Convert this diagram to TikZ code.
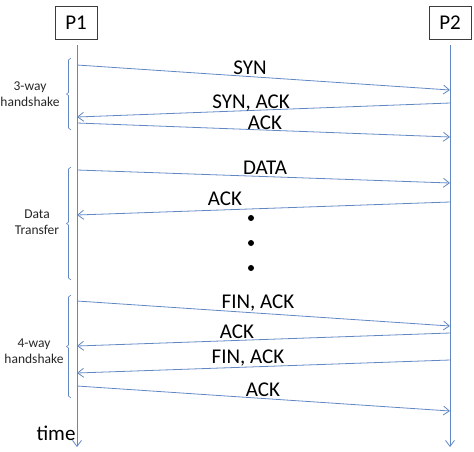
\documentclass[tikz,border=0pt]{standalone}
\usepackage{fontspec}
\setmainfont{Carlito}
\usepackage{tikz}
\usetikzlibrary{arrows.meta}
\usetikzlibrary{calc}
\definecolor{lineblue}{RGB}{98,136,196}
\definecolor{boxgray}{RGB}{60,60,60}
\tikzset{
 procbox/.style={draw=boxgray, line width=0.8pt, minimum width=42pt, minimum height=33pt, inner sep=0pt, font=\fontsize{21}{25}\selectfont},
 msg/.style={lineblue, line width=0.8pt, -{Straight Barb[length=6pt,width=9pt]}},
 lbl/.style={inner sep=0pt, font=\fontsize{21}{25}\selectfont},
 phase/.style={inner sep=0pt, align=center, text=black!85, font=\fontsize{13.5}{16}\selectfont}
}

\begin{document}
\begin{tikzpicture}[x=1pt,y=-1pt]
\useasboundingbox (0,0) rectangle (474,451);
\node[procbox] (p1) at (76,22.5) {P1};
\node[procbox] (p2) at (450,22.5) {P2};
\coordinate (a) at (77,0);
\coordinate (b) at (450,0);
\coordinate (aend) at (77,447);
\coordinate (bend) at (450,447);
\draw[msg] (a|-0,45) -- (aend);
\draw[msg] (b|-0,45) -- (bend);
\foreach \n/\f/\t/\ya/\yb/\lx/\ly/\lab in {
 1/a/b/65/90/250/68/SYN, 2/b/a/103/117/251/103/{SYN, ACK}, 3/a/b/123/137/265/123/ACK,
 4/a/b/170/183/265/168/DATA, 5/b/a/202/215/225/199/ACK,
 6/a/b/301/326/258/303/{FIN, ACK}, 7/b/a/333/346/237/332/ACK,
 8/b/a/360/373/248/358/{FIN, ACK}, 9/a/b/386/411/263/390/ACK} {
 \coordinate (m\n s) at ($(\f)+(0,\ya)$);
 \coordinate (m\n e) at ($(\t)+(0,\yb)$);
 \draw[msg] (m\n s) -- (m\n e);
 \node[lbl] (t\n) at (\lx,\ly) {\lab};
}
\foreach \y in {218,243,268}
 \fill (251,\y) circle (3);
\foreach \ya/\yb in {58/130, 167/280, 295/398}
 \draw[lineblue, line width=0.6pt] (71,\ya) -- (68.5,\ya+2) -- (68.5,{(\ya+\yb)/2-1.5}) -- (66.5,{(\ya+\yb)/2}) -- (68.5,{(\ya+\yb)/2+1.5}) -- (68.5,\yb-2) -- (71,\yb);
\node[phase] (hs3) at (30,94.5) {3-way\\handshake};
\node[phase] (dt) at (37,222.5) {Data\\Transfer};
\node[phase] (hs4) at (34,351) {4-way\\handshake};
\node[inner sep=0pt, font=\fontsize{21}{25}\selectfont] (time) at (56,433) {time};
\end{tikzpicture}
\end{document}
